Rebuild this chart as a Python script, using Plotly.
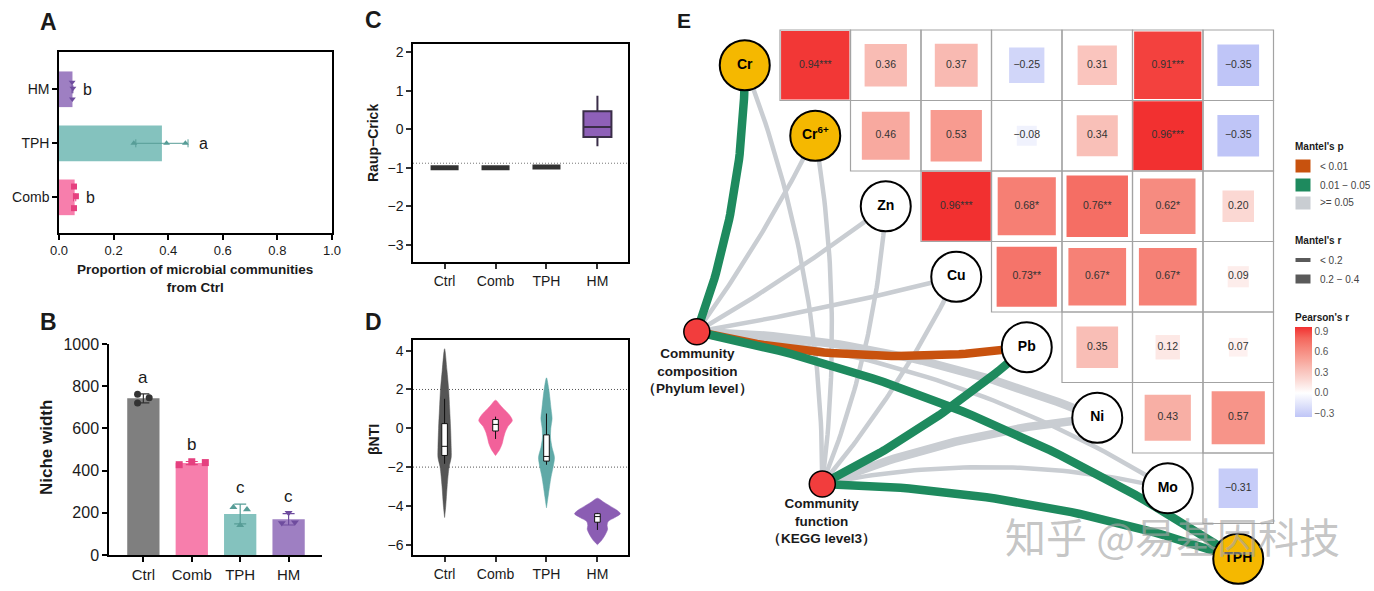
import numpy as np
import plotly.graph_objects as go

W, H = 1374, 591
FONT = "Arial, Liberation Sans, sans-serif"
TXT = "#1a1a1a"

# ------------------------------------------------------------------ DATA
groups = ["Ctrl", "Comb", "TPH", "HM"]

# Panel A: proportion of communities from Ctrl (3 replicates each)
a_cats = ["Comb", "TPH", "HM"]
a_comb = [0.055, 0.062, 0.055]
a_tph = [0.274, 0.394, 0.463]
a_hm = [0.048, 0.051, 0.049]
a_letters = ["b", "a", "b"]

# Panel B: niche width (3 replicates each)
b_ctrl = [762, 745, 720]
b_comb = [428, 442, 438]
b_tph = [226, 216, 141]
b_hm = [200, 152, 155]
b_letters = ["a", "b", "c", "c"]

# Panel C: Raup-Crick box statistics
c_q1 = [-1.00, -1.00, -0.98, -0.20]
c_med = [-1.00, -1.00, -0.98, 0.06]
c_q3 = [-1.00, -1.00, -0.98, 0.47]
c_low = [-1.00, -1.00, -0.98, -0.44]
c_high = [-1.00, -1.00, -0.98, 0.87]
c_ref = [-0.88]

# Panel D: betaNTI violin density profiles (level, half width) and box stats
d_ctrl_y = [4.1, 3.0, 2.0, 1.0, 0.0, -1.0, -1.5, -2.0, -3.0, -4.0, -4.6]
d_ctrl_w = [0.0, 0.046, 0.08, 0.10, 0.118, 0.13, 0.13, 0.088, 0.05, 0.023, 0.0]
d_comb_y = [1.45, 1.2, 1.0, 0.7, 0.4, 0.1, -0.2, -0.5, -0.8, -1.1, -1.4]
d_comb_w = [0.0, 0.09, 0.16, 0.27, 0.33, 0.245, 0.19, 0.157, 0.13, 0.08, 0.0]
d_tph_y = [2.6, 2.0, 1.0, 0.5, 0.0, -0.5, -1.0, -1.5, -2.0, -2.5, -3.0, -3.5, -4.1]
d_tph_w = [0.0, 0.046, 0.09, 0.11, 0.085, 0.08, 0.11, 0.157, 0.13, 0.09, 0.06, 0.033, 0.0]
d_hm_y = [-3.6, -3.8, -4.0, -4.2, -4.4, -4.6, -4.8, -5.0, -5.2, -5.5, -5.8, -6.0]
d_hm_w = [0.0, 0.12, 0.245, 0.37, 0.45, 0.34, 0.21, 0.19, 0.2, 0.15, 0.075, 0.0]
d_q1 = [-1.40, -0.14, -1.69, -4.84]
d_med = [-0.93, 0.20, -1.45, -4.55]
d_q3 = [0.24, 0.45, -0.34, -4.40]
d_low = [-1.83, -0.55, -1.88, -5.24]
d_high = [1.52, 0.60, 0.76, -4.36]
d_ref = [2, -2]

# Panel E: environmental variables, Pearson's r (upper triangle) and Mantel tests
env_labels = ["Cr", "Cr<sup>6+</sup>", "Zn", "Cu", "Pb", "Ni", "Mo", "TPH"]
r_cr = [0.94, 0.36, 0.37, -0.25, 0.31, 0.91, -0.35]
r_cr6 = [0.46, 0.53, -0.08, 0.34, 0.96, -0.35]
r_zn = [0.96, 0.68, 0.76, 0.62, 0.20]
r_cu = [0.73, 0.67, 0.67, 0.09]
r_pb = [0.35, 0.12, 0.07]
r_ni = [0.43, 0.57]
r_mo = [-0.31]
s_cr = ["***", "", "", "", "", "***", ""]
s_cr6 = ["", "", "", "", "***", ""]
s_zn = ["***", "*", "**", "*", ""]
s_cu = ["**", "*", "*", ""]
s_pb = ["", "", ""]
s_ni = ["", ""]
s_mo = [""]
comp_p = ["0.01-0.05", ">=0.05", ">=0.05", ">=0.05", "<0.01", ">=0.05", ">=0.05", "0.01-0.05"]
comp_r = ["0.2-0.4", "<0.2", "<0.2", "<0.2", "0.2-0.4", "0.2-0.4", "<0.2", "0.2-0.4"]
func_p = [">=0.05", ">=0.05", ">=0.05", ">=0.05", "0.01-0.05", ">=0.05", ">=0.05", "0.01-0.05"]
func_r = ["<0.2", "<0.2", "<0.2", "<0.2", "0.2-0.4", "0.2-0.4", "<0.2", "0.2-0.4"]

# ------------------------------------------------------------------ STYLE
BAR = {"Ctrl": "#7f7f7f", "Comb": "#f77eac", "TPH": "#84c2be", "HM": "#9e7fc2"}
PT = {"Ctrl": "#333333", "Comb": "#e5407f", "TPH": "#579d97", "HM": "#6e4c9e"}
SYM = {"Ctrl": "circle", "Comb": "square", "TPH": "triangle-up", "HM": "triangle-down"}
VIO = {"Ctrl": "#555555", "Comb": "#f2619a", "TPH": "#5fa9a7", "HM": "#8b5db3"}
A_SWARM = {"Comb": [0.2, 0.02, -0.2], "TPH": [0, 0, 0], "HM": [0.13, 0.02, -0.18]}
B_SWARM = {"Ctrl": [-0.12, 0.12, -0.12], "Comb": [-0.26, 0.0, 0.28],
           "TPH": [-0.14, 0.14, 0.0], "HM": [0.0, -0.14, 0.13]}
P_COL = {"<0.01": "#c8520e", "0.01-0.05": "#1e8a5e", ">=0.05": "#c9cdd2"}
R_WID = {"<0.2": 4.5, "0.2-0.4": 8.5}
ENV_FILL = ["#f5b800", "#f5b800", "white", "white", "white", "white", "white", "#f5b800"]
COMP_BEND = [0.045, 0.02, 0.015, 0.01, 0.047, -0.047, -0.06, -0.05]
FUNC_BEND = [0.047, 0.037, 0.04, 0.03, 0.032, -0.035, -0.055, -0.04]
CELL = 70.5  # px per heatmap cell


def xp(px):
    return px / W


def yp(py):
    return 1 - py / H


fig = go.Figure()

# ------------------------------------------------------------------ PANEL A
a_data = [a_comb, a_tph, a_hm]
for i, (cat, pts) in enumerate(zip(a_cats, a_data)):
    m, s = float(np.mean(pts)), float(np.std(pts, ddof=1))
    fig.add_trace(go.Bar(x=[m], y=[i], orientation="h", width=0.66,
                         marker=dict(color=BAR[cat], line_width=0),
                         error_x=dict(type="data", array=[s], color=PT[cat], thickness=1, width=4),
                         xaxis="x", yaxis="y"))
    fig.add_trace(go.Scatter(x=pts, y=[i + o for o in A_SWARM[cat]], mode="markers",
                             marker=dict(symbol=SYM[cat], size=6, color=PT[cat]),
                             xaxis="x", yaxis="y"))
    fig.add_annotation(x=m + s + 0.055, y=i, xref="x", yref="y", text=a_letters[i],
                       showarrow=False, font=dict(size=16, color=TXT))

# ------------------------------------------------------------------ PANEL B
b_data = [b_ctrl, b_comb, b_tph, b_hm]
for i, (g, pts) in enumerate(zip(groups, b_data)):
    m, s = float(np.mean(pts)), float(np.std(pts, ddof=1))
    fig.add_trace(go.Bar(x=[i], y=[m], width=0.667,
                         marker=dict(color=BAR[g], line_width=0),
                         error_y=dict(type="data", array=[s], color=PT[g], thickness=1.2, width=6),
                         xaxis="x2", yaxis="y2"))
    fig.add_trace(go.Scatter(x=[i + o for o in B_SWARM[g]], y=pts, mode="markers",
                             marker=dict(symbol=SYM[g], size=7, color=PT[g]),
                             xaxis="x2", yaxis="y2"))
    fig.add_annotation(x=i, y=m + s + 80, xref="x2", yref="y2", text=b_letters[i],
                       showarrow=False, font=dict(size=17, color=TXT))

# ------------------------------------------------------------------ PANEL C
for i, g in enumerate(groups):
    flat = c_q1[i] == c_q3[i]
    fig.add_trace(go.Box(x=[i], q1=[c_q1[i]], median=[c_med[i]], q3=[c_q3[i]],
                         lowerfence=[c_low[i]], upperfence=[c_high[i]], width=0.55,
                         fillcolor="#333333" if flat else "#8e60b8",
                         line=dict(color="#333333" if flat else "#3a2d48", width=5 if flat else 2),
                         whiskerwidth=0, boxpoints=False, xaxis="x3", yaxis="y3"))

# ------------------------------------------------------------------ PANEL D
vio = [(d_ctrl_y, d_ctrl_w), (d_comb_y, d_comb_w), (d_tph_y, d_tph_w), (d_hm_y, d_hm_w)]
for i, (g, (ys, ws)) in enumerate(zip(groups, vio)):
    xs = [i + w for w in ws] + [i - w for w in ws[::-1]]
    yy = list(ys) + list(ys[::-1])
    fig.add_trace(go.Scatter(x=xs, y=yy, mode="lines", fill="toself", fillcolor=VIO[g],
                             line=dict(color=VIO[g], width=0.5, shape="spline", smoothing=0.8),
                             xaxis="x4", yaxis="y4"))
# inner boxes on an overlaid copy of the D axes so they sit above the violins
for i, g in enumerate(groups):
    fig.add_trace(go.Box(x=[i], q1=[d_q1[i]], median=[d_med[i]], q3=[d_q3[i]],
                         lowerfence=[d_low[i]], upperfence=[d_high[i]], width=0.11,
                         fillcolor="white", line=dict(color="#111111", width=1),
                         whiskerwidth=0, boxpoints=False, xaxis="x6", yaxis="y6"))

# ------------------------------------------------------------------ PANEL E
env_pos = [(k - 0.5, k + 0.5) for k in range(len(env_labels))]
comp_pos = (-1.18, 4.28)
func_pos = (0.60, 6.44)


def curve(p0, p2, bend, n=50):
    p0 = np.array(p0, float)
    p2 = np.array(p2, float)
    d = p2 - p0
    L = np.hypot(d[0], d[1])
    perp = np.array([-d[1], d[0]]) / L
    c = (p0 + p2) / 2 + 2 * bend * L * perp
    t = np.linspace(0, 1, n)[:, None]
    return (1 - t) ** 2 * p0 + 2 * (1 - t) * t * c + t ** 2 * p2


edges = []
for k in range(len(env_labels)):
    edges.append((comp_pos, env_pos[k], comp_p[k], comp_r[k], COMP_BEND[k]))
    edges.append((func_pos, env_pos[k], func_p[k], func_r[k], FUNC_BEND[k]))
edges.sort(key=lambda e: 0 if e[2] == ">=0.05" else 1)
for p0, p2, pc, rc, bend in edges:
    pts = curve(p0, p2, bend)
    fig.add_trace(go.Scatter(x=pts[:, 0], y=pts[:, 1], mode="lines",
                             line=dict(color=P_COL[pc], width=R_WID[rc]),
                             xaxis="x5", yaxis="y5"))

# heatmap squares
rows_r = [r_cr, r_cr6, r_zn, r_cu, r_pb, r_ni, r_mo]
rows_s = [s_cr, s_cr6, s_zn, s_cu, s_pb, s_ni, s_mo]
hx, hy, hv, hs, ht = [], [], [], [], []
for i, (rr, ss) in enumerate(zip(rows_r, rows_s)):
    for j, (v, st) in enumerate(zip(rr, ss)):
        col = i + j
        hx.append(col + 0.5)
        hy.append(i + 0.5)
        hv.append(v)
        hs.append(CELL * np.sqrt(abs(v)))
        ht.append(f"{v:.2f}".replace("-", "\u2212") + st)
        fig.add_shape(type="rect", xref="x5", yref="y5", x0=col, x1=col + 1, y0=i, y1=i + 1,
                      line=dict(color="#a3a3a3", width=1.2), layer="above")

rmin, rmax = -0.35, 0.96
stops = [(-0.35, "#bfc5f7"), (-0.2, "#dadefa"), (0.0, "#ffffff"), (0.2, "#fbd8d3"),
         (0.35, "#f9beb6"), (0.5, "#f8a196"), (0.65, "#f6857a"), (0.8, "#f4665c"), (0.96, "#f23030")]
cscale = [[(v - rmin) / (rmax - rmin), c] for v, c in stops]
fig.add_trace(go.Scatter(
    x=hx, y=hy, mode="markers+text", text=ht, textposition="middle center",
    textfont=dict(size=10.5, color="#333333", family=FONT),
    marker=dict(symbol="square", size=hs, color=hv, colorscale=cscale, cmin=rmin, cmax=rmax,
                opacity=1, line_width=0, showscale=True,
                colorbar=dict(x=xp(1295), xanchor="left", xpad=0, y=yp(372), yanchor="middle",
                              ypad=0, thickness=17, len=90, lenmode="pixels", outlinewidth=0,
                              tickvals=[-0.3, 0, 0.3, 0.6, 0.9],
                              ticktext=["\u22120.3", "0.0", "0.3", "0.6", "0.9"],
                              ticks="", tickfont=dict(size=10, color="#555555", family=FONT))),
    xaxis="x5", yaxis="y5"))

# community nodes
fig.add_trace(go.Scatter(x=[comp_pos[0], func_pos[0]], y=[comp_pos[1], func_pos[1]], mode="markers",
                         marker=dict(size=26, color="#f23d3d", opacity=1,
                                     line=dict(color="black", width=1.5)),
                         xaxis="x5", yaxis="y5"))
# env nodes
fig.add_trace(go.Scatter(x=[p[0] for p in env_pos], y=[p[1] for p in env_pos], mode="markers+text",
                         text=[f"<b>{l}</b>" for l in env_labels], textposition="middle center",
                         textfont=dict(size=14, color="black", family=FONT),
                         marker=dict(size=50, color=ENV_FILL, opacity=1,
                                     line=dict(color="black", width=2)),
                         xaxis="x5", yaxis="y5"))

# ------------------------------------------------------------------ LAYOUT
tickfont = dict(family=FONT, size=14, color=TXT)
axbase = dict(showgrid=False, zeroline=False, showline=True, linecolor="black", linewidth=1.5,
              ticks="outside", ticklen=5, tickwidth=1.5, tickcolor="black")
d_xr = [-0.62, 3.6]
d_yr = [-6.53, 4.55]

layout = dict(
    width=W, height=H, margin=dict(l=0, r=0, t=0, b=0, pad=0, autoexpand=False),
    paper_bgcolor="white", plot_bgcolor="white", showlegend=False,
    font=dict(family=FONT, color=TXT),
    xaxis=dict(axbase, domain=[xp(59), xp(332)], range=[0, 1], anchor="y", mirror=True,
               tickvals=[0, 0.2, 0.4, 0.6, 0.8, 1.0], tickformat=".1f",
               tickfont=dict(family=FONT, size=13, color=TXT)),
    yaxis=dict(axbase, domain=[yp(233), yp(52)], range=[-0.66, 2.69], anchor="x", mirror=True,
               tickvals=[0, 1, 2], ticktext=a_cats, tickfont=dict(family=FONT, size=14, color=TXT)),
    xaxis2=dict(axbase, domain=[xp(109), xp(322)], range=[-0.71, 3.69], anchor="y2",
                tickvals=[0, 1, 2, 3], ticktext=groups, tickfont=dict(family=FONT, size=15, color=TXT)),
    yaxis2=dict(axbase, domain=[yp(555), yp(344)], range=[0, 1000], anchor="x2",
                tickvals=[0, 200, 400, 600, 800, 1000], tickfont=dict(family=FONT, size=16, color=TXT)),
    xaxis3=dict(axbase, domain=[xp(413), xp(628)], range=[-0.62, 3.6], anchor="y3", mirror=True,
                tickvals=[0, 1, 2, 3], ticktext=groups, tickfont=tickfont, tickcolor="#333"),
    yaxis3=dict(axbase, domain=[yp(262), yp(44)], range=[-3.44, 2.21], anchor="x3", mirror=True,
                tickvals=[-3, -2, -1, 0, 1, 2], tickfont=tickfont, tickcolor="#333"),
    xaxis4=dict(axbase, domain=[xp(413), xp(628)], range=d_xr, anchor="y4", mirror=True,
                tickvals=[0, 1, 2, 3], ticktext=groups, tickfont=tickfont, tickcolor="#333"),
    yaxis4=dict(axbase, domain=[yp(555), yp(340)], range=d_yr, anchor="x4", mirror=True,
                tickvals=[-6, -4, -2, 0, 2, 4], tickfont=tickfont, tickcolor="#333"),
    xaxis6=dict(overlaying="x4", range=d_xr, anchor="y6", visible=False),
    yaxis6=dict(overlaying="y4", range=d_yr, anchor="x6", visible=False),
    xaxis5=dict(domain=[xp(660), xp(1290)], range=[(660 - 780) / CELL, (1290 - 780) / CELL],
                anchor="y5", visible=False),
    yaxis5=dict(domain=[0, 1], range=[(591 - 30) / CELL, (0 - 30) / CELL], anchor="x5", visible=False),
)
fig.update_layout(**layout)

# reference lines
for v in c_ref:
    fig.add_shape(type="line", xref="x3 domain", yref="y3", x0=0, x1=1, y0=v, y1=v,
                  line=dict(color="#777777", width=1, dash="1px,2px"), layer="below")
for v in d_ref:
    fig.add_shape(type="line", xref="x4 domain", yref="y4", x0=0, x1=1, y0=v, y1=v,
                  line=dict(color="#555555", width=1, dash="1px,2px"), layer="below")


def ann(px, py, text, size=13, bold=False, angle=0, color=TXT, xanchor="center", family=FONT):
    fig.add_annotation(x=xp(px), y=yp(py), xref="paper", yref="paper", showarrow=False,
                       text=f"<b>{text}</b>" if bold else text, textangle=angle,
                       xanchor=xanchor, yanchor="middle",
                       font=dict(size=size, color=color, family=family))


# panel letters
ann(48, 22, "A", 23, True)
ann(48, 322, "B", 23, True)
ann(373, 20, "C", 23, True)
ann(373, 322, "D", 23, True)
ann(684, 20, "E", 21, True)
# axis titles
ann(195, 278, "Proportion of microbial communities<br>from Ctrl", 13.5, True)
ann(46, 448, "Niche width", 17, True, -90)
ann(373, 143, "Raup\u2212Crick", 14, True, -90)
ann(374, 440, "\u03b2NTI", 14, True, -90)
# community labels
ann(697, 371, "Community<br>composition<br>\uff08Phylum level\uff09", 13.5, True)
ann(822, 521, "Community<br>function<br>\uff08KEGG level3\uff09", 13.5, True)

# legends
ann(1293, 146, "Mantel's p", 10, True, xanchor="left")
for py, key, lab in [(166, "<0.01", "< 0.01"), (185, "0.01-0.05", "0.01 \u2212 0.05"),
                     (203, ">=0.05", ">= 0.05")]:
    fig.add_shape(type="rect", xref="paper", yref="paper", x0=xp(1295.5), x1=xp(1310.5),
                  y0=yp(py - 6.5), y1=yp(py + 6.5), line_width=0, fillcolor=P_COL[key])
    ann(1318, py, lab, 10, color="#444444", xanchor="left")
ann(1293, 240, "Mantel's r", 10, True, xanchor="left")
for py, key, lab in [(260, "<0.2", "< 0.2"), (279, "0.2-0.4", "0.2 \u2212 0.4")]:
    hh = 2 if key == "<0.2" else 4.5
    fig.add_shape(type="rect", xref="paper", yref="paper", x0=xp(1295.5), x1=xp(1310.5),
                  y0=yp(py - hh), y1=yp(py + hh), line_width=0, fillcolor="#5a5a5a")
    ann(1318, py, lab, 10, color="#444444", xanchor="left")
ann(1293, 318, "Pearson's r", 10, True, xanchor="left")

# watermark
ann(1172, 535, "\u77e5\u4e4e @\u6613\u57fa\u56e0\u79d1\u6280", 41, color="rgba(165,165,165,0.65)",
    family="Noto Sans CJK SC")

fig.write_html("out.html", config={"displayModeBar": False},
               post_script="document.body.style.margin='0';")
